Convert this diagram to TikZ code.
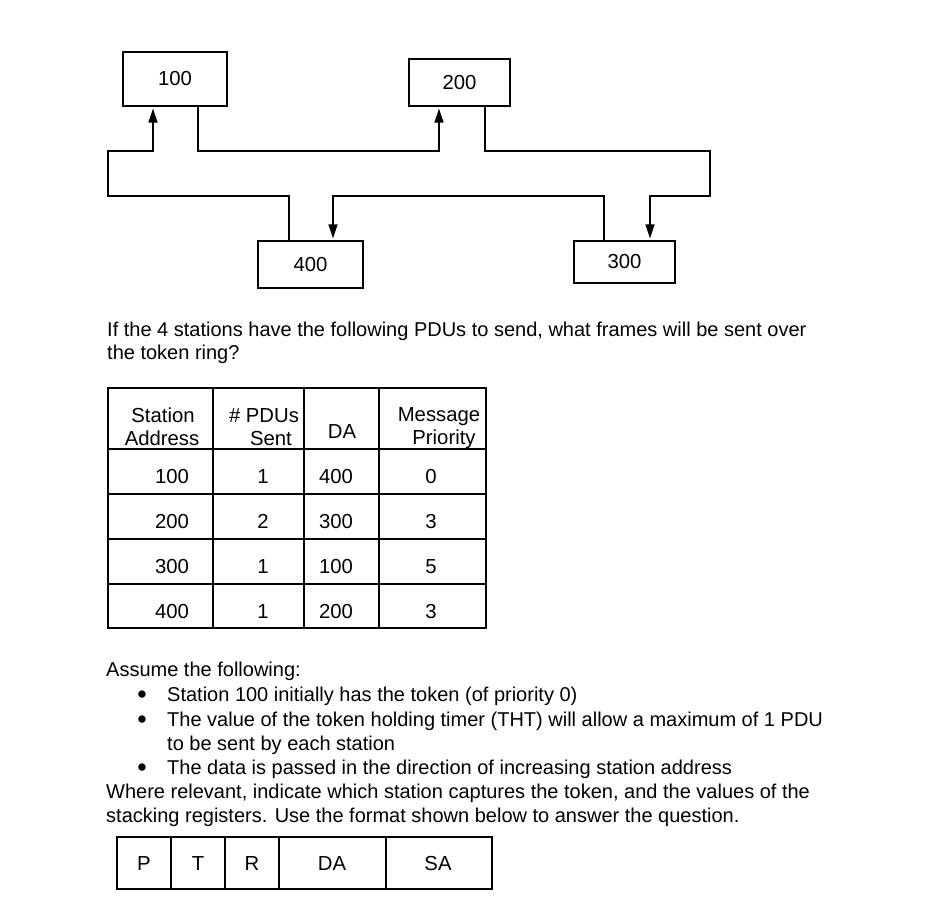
\documentclass[tikz,border=0pt]{standalone}
\usepackage{fontspec}
\setmainfont{Liberation Sans}
\usetikzlibrary{arrows.meta}
\newcommand\mytxt{\fontsize{20}{24}\selectfont}
\newcommand\mylbl{\fontsize{20.3}{23}\selectfont}
\newcommand\mybul{\fontsize{27}{24}\selectfont}
\tikzset{
  station/.style={draw=black, line width=1.3pt, inner sep=0pt, font=\mylbl},
  ring/.style={draw=black, line width=1.3pt},
  ringarrow/.style={ring, -{Triangle[length=14pt,width=9pt]}, shorten >=2pt},
  grid/.style={draw=black, line width=1.7pt},
  para/.style={anchor=base west, inner sep=0pt, font=\mytxt},
  cell/.style={anchor=base, inner sep=0pt, font=\mylbl},
  bul/.style={anchor=center, inner sep=0pt, font=\mybul},
}
\begin{document}
\begin{tikzpicture}[x=1pt,y=-1pt]
\useasboundingbox (0,0) rectangle (945,898);
\fill[white] (0,0) rectangle (945,898);

% stations
\node[station, minimum width=104pt, minimum height=54pt] (n100) at (175,79) {100};
\node[station, minimum width=101pt, minimum height=47pt] (n200) at (459.5,82.5) {200};
\node[station, minimum width=105pt, minimum height=47pt] (n400) at (310.5,264.5) {400};
\node[station, minimum width=101pt, minimum height=42pt] (n300) at (624.5,262) {300};

% ring corner coordinates
\coordinate (x153) at (153,0);
\coordinate (x198) at (198,0);
\coordinate (x289) at (289,0);
\coordinate (x333) at (333,0);
\coordinate (x439) at (439,0);
\coordinate (x485) at (485,0);
\coordinate (x604) at (604,0);
\coordinate (x650) at (650,0);
\coordinate (c1) at (108,196);
\coordinate (c2) at (153,151);
\coordinate (c3) at (439,151);
\coordinate (c4) at (710,151);
\coordinate (c5) at (650,196);
\coordinate (c6) at (333,196);

% 400 -> 100
\draw[ringarrow] (n400.north -| x289) |- (c1) |- (c2) -- (n100.south -| x153);
% 100 -> 200
\draw[ringarrow] (n100.south -| x198) |- (c3) -- (n200.south -| x439);
% 200 -> 300
\draw[ringarrow] (n200.south -| x485) |- (c4) |- (c5) -- (n300.north -| x650);
% 300 -> 400
\draw[ringarrow] (n300.north -| x604) |- (c6) -- (n400.north -| x333);

% question text
\node[para] (q1) at (107,336) {If the 4 stations have the following PDUs to send, what frames will be sent over};
\node[para] (q2) at (107,359.5) {the token ring?};

% table
\draw[grid] (108,388) rectangle (486,628);
\foreach \xx in {213,304,379} \draw[grid] (\xx,388) -- (\xx,628);
\foreach \yy in {449,494,539,584} \draw[grid] (108,\yy) -- (486,\yy);

\node[cell] (h1a) at (163,422) {Station};
\node[cell] (h1b) at (162,445) {Address};
\node[cell] (h2a) at (264,422) {\# PDUs};
\node[cell] (h2b) at (271,445) {Sent};
\node[cell] (h3) at (342,438) {DA};
\node[cell] (h4a) at (439,421) {Message};
\node[cell] (h4b) at (444,444) {Priority};

\node[cell] (r1a) at (172,483) {100};
\node[cell] (r1b) at (263,483) {1};
\node[cell] (r1c) at (336,483) {400};
\node[cell] (r1d) at (431,483) {0};
\node[cell] (r2a) at (172,528) {200};
\node[cell] (r2b) at (263,528) {2};
\node[cell] (r2c) at (336,528) {300};
\node[cell] (r2d) at (431,528) {3};
\node[cell] (r3a) at (172,573) {300};
\node[cell] (r3b) at (263,573) {1};
\node[cell] (r3c) at (336,573) {100};
\node[cell] (r3d) at (431,573) {5};
\node[cell] (r4a) at (172,618) {400};
\node[cell] (r4b) at (263,618) {1};
\node[cell] (r4c) at (336,618) {200};
\node[cell] (r4d) at (431,618) {3};

% assumptions
\node[para] (a1) at (106,676.5) {Assume the following:};
\node[bul] (b1) at (142,697) {•};
\node[para] (a2) at (167,701) {Station 100 initially has the token (of priority 0)};
\node[bul] (b2) at (142,722) {•};
\node[para] (a3) at (167,726) {The value of the token holding timer (THT) will allow a maximum of 1 PDU};
\node[para] (a4) at (167,750) {to be sent by each station};
\node[bul] (b3) at (142,770) {•};
\node[para] (a5) at (167,774) {The data is passed in the direction of increasing station address};
\node[para] (a6) at (106,798) {Where relevant, indicate which station captures the token, and the values of the};
\node[para] (a7) at (106,822) {stacking registers. Use the format shown below to answer the question.};

% format box
\draw[grid] (117,837) rectangle (492,889);
\foreach \xx in {171,225,279,386} \draw[grid] (\xx,837) -- (\xx,889);
\node[cell] (fP) at (144,870) {P};
\node[cell] (fT) at (198,870) {T};
\node[cell] (fR) at (252,870) {R};
\node[cell] (fDA) at (332,870) {DA};
\node[cell] (fSA) at (438,870) {SA};
\end{tikzpicture}
\end{document}
